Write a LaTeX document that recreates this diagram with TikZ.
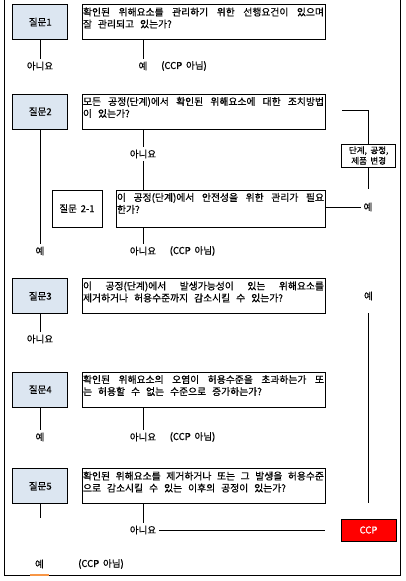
\documentclass[tikz,border=0pt]{standalone}
\usepackage{fontspec}
\setmainfont{Noto Sans CJK KR}[FakeBold=0.6,WordSpace=1.8]
\usetikzlibrary{
	calc,
	positioning
}
\definecolor{qblue}{HTML}{DCE6F1}
\definecolor{ccpred}{HTML}{FF0000}
\definecolor{lineorange}{HTML}{F79646}
\tikzset{every path/.append style={line width=0.8pt}}
\tikzset{
	qlabel/.style={draw,fill=qblue,minimum width=55pt,minimum height=35pt,inner sep=0pt},
	qtext/.style={draw,inner xsep=1pt,inner ysep=3pt,
		font={\fontsize{9.8}{12}\selectfont\spaceskip=6pt plus 4pt minus 3.5pt\relax}},
	answer/.style={inner sep=2.5pt}
}
\newcommand{\tikzQuestion}[4]{%
	\node (#1lbl) at (40.3,#2) [qlabel] {#3};
	\node (#1txt) at (203.5,#2) [qtext] {\parbox[t][29pt][t]{241pt}{#4}};}

\begin{document}
\begin{tikzpicture}[x=1pt,y=-1pt,every node/.append style={font=\fontsize{9.5}{12}\selectfont}]
	\useasboundingbox (0,0) rectangle (406,581);
	\draw (4.5,-2) |- (400,575.5) -- (400,-2);
	
	\tikzQuestion{q1}{22}{질문1}{확인된 위해요소를 관리하기 위한 선행요건이 있으며\linebreak 잘 관리되고 있는가?}
	\tikzQuestion{q2}{111.5}{질문2}{모든 공정(단계)에서 확인된 위해요소에 대한 조치방법\linebreak 이 있는가?}
	\tikzQuestion{q3}{296}{질문3}{이 공정(단계)에서 발생가능성이 있는 위해요소를\linebreak 제거하거나 허용수준까지 감소시킬 수 있는가?}
	\tikzQuestion{q4}{389.5}{질문4}{확인된 위해요소의 오염이 허용수준을 초과하는가 또\linebreak 는 허용할 수 없는 수준으로 증가하는가?}
	\tikzQuestion{q5}{486}{질문5}{확인된 위해요소를 제거하거나 또는 그 발생을 허용수준\linebreak 으로 감소시킬 수 있는 이후의 공정이 있는가?}
	
	\node (q21lbl) at (77,208.5) [draw,minimum width=50pt,minimum height=37pt,inner sep=0pt] {질문 2-1};
	\node (q21txt) at (220.5,208.5) [qtext] {\parbox[t][31pt][t]{207pt}{이 공정(단계)에서 안전성을 위한 관리가 필요\linebreak 한가?}};
	\node (change) at (368.7,155.5) [draw,minimum width=54pt,minimum height=23pt,inner sep=0pt,align=center,font=\fontsize{8.5}{10.5}\selectfont] {단계, 공정,\\제품 변경};
	\node (ccp) at (368.5,530) [draw,fill=ccpred,text=white,minimum width=55pt,minimum height=22pt,inner sep=0pt] {CCP};
	
	% answers
	\node (q1no)  at (40,66)    [answer] {아니요};
	\node (q1yes) at (143,66)   [answer] {예};
	\node (q1ccp) at (184,66)   {(CCP 아님)};
	\node (q2no)  at (143,154)  [answer] {아니요};
	\node (q2yes) at (40,251)   [answer] {예};
	\node (q21yes) at (368,207) [answer] {예};
	\node (q21no)  at (143,251) [answer] {아니요};
	\node (q21ccp) at (192.5,251) {(CCP 아님)};
	\node (q3yes) at (368.5,296) [answer] {예};
	\node (q3no)  at (40,339)   [answer] {아니요};
	\node (q4yes) at (40,437)   [answer] {예};
	\node (q4no)  at (143,437)  [answer] {아니요};
	\node (q4ccp) at (192.5,437) {(CCP 아님)};
	\node (q5no)  at (143,530)  [answer] {아니요};
	\node (q5yes) at (39.5,564) [answer] {예};
	\node (q5ccp) at (101,564)  {(CCP 아님)};
	
	\draw (q1lbl.south) -- (q1lbl.south |- q1no.north);
	\draw (q1txt.south -| q1yes) -- (q1yes);
	
	\draw (q2lbl.south) -- (q2lbl.south |- q2yes.north);
	\draw (q2txt.south -| q2no) -- (q2no);
	\draw (q2no) -- (q2no |- q21txt.north);
	\coordinate (q2out) at (342,110);
	\draw (q2out) -| (change);
	\draw (change) -- ($(change.south)+(0,22)$);
	\draw (q21txt.east |- q21yes) -- (q21yes);
	\draw (q21txt.south -| q21no) -- (q21no);
	
	\draw ($(q3yes.south)+(0,10)$) -- ($(ccp.north)+(0,-16)$);
	\draw (q3lbl.south) -- (q3lbl.south |- q3no.north);
	
	\draw (q4lbl.south) -- (q4lbl.south |- q4yes.north);
	\draw (q4txt.south -| q4no) -- (q4no);
	
	\draw (q5lbl.south) -- ($(q5lbl.south)+(0,14)$);
	\draw (q5txt.south -| q5no) -- (q5no);
	\draw (q5no) -- ($(ccp.west)+(-16,0)$);
	\draw[lineorange,line width=1.5pt] ($(q5yes.south)+(-9.5,4)$) -- ++(19,0);
\end{tikzpicture}
\end{document}
